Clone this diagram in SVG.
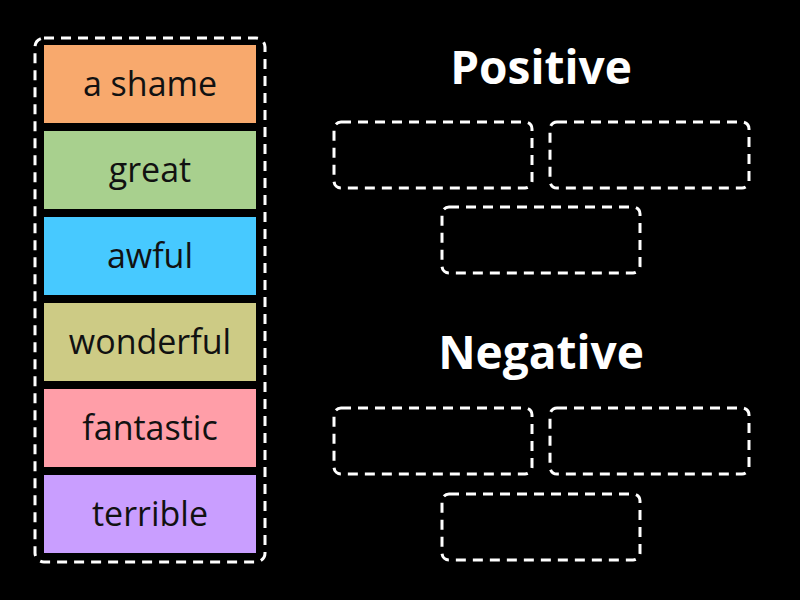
<svg xmlns="http://www.w3.org/2000/svg" width="800" height="600" viewBox="0 0 800 600">
<style>
.dash{fill:none;stroke:#fff;stroke-width:3;stroke-dasharray:10,7}
.tile text{font-family:"Open Sans",sans-serif;font-size:34px;fill:#111;text-anchor:middle}
.title{font-family:"Open Sans",sans-serif;font-size:46px;font-weight:bold;fill:#fff;text-anchor:middle}
</style>
<rect width="800" height="600" fill="#000"/>
<rect id="tray" class="dash" x="35" y="38" width="230" height="524" rx="9"/>
<g id="t1" class="tile"><rect x="44" y="45" width="212" height="78" fill="#F8A96D"/><text x="150" y="96">a shame</text></g>
<g id="t2" class="tile"><rect x="44" y="131" width="212" height="78" fill="#A8D08E"/><text x="150" y="182">great</text></g>
<g id="t3" class="tile"><rect x="44" y="217" width="212" height="78" fill="#47C9FF"/><text x="150" y="268">awful</text></g>
<g id="t4" class="tile"><rect x="44" y="303" width="212" height="78" fill="#CDCB85"/><text x="150" y="354">wonderful</text></g>
<g id="t5" class="tile"><rect x="44" y="389" width="212" height="78" fill="#FF9EA8"/><text x="150" y="440">fantastic</text></g>
<g id="t6" class="tile"><rect x="44" y="475" width="212" height="78" fill="#C99EFF"/><text x="150" y="526">terrible</text></g>
<g id="positive">
<text class="title" x="541" y="84">Positive</text>
<rect class="dash" x="334" y="122" width="198" height="66" rx="7"/>
<rect class="dash" x="550" y="122" width="199" height="66" rx="7"/>
<rect class="dash" x="442" y="207" width="198" height="66" rx="7"/>
</g>
<g id="negative">
<text class="title" x="541" y="369">Negative</text>
<rect class="dash" x="334" y="408" width="198" height="66" rx="7"/>
<rect class="dash" x="550" y="408" width="199" height="66" rx="7"/>
<rect class="dash" x="442" y="494" width="198" height="66" rx="7"/>
</g>
<g id="connectors"/>
</svg>
